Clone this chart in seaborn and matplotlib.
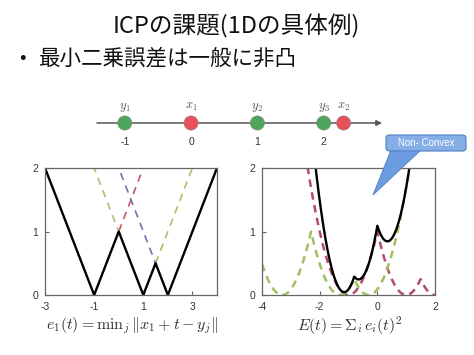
import numpy as np
import pandas as pd
import matplotlib
matplotlib.use("Agg")
import matplotlib.pyplot as plt
from matplotlib.patches import FancyBboxPatch, Polygon
import seaborn as sns

# points on the 1D line
y_pts = [-1, 1, 2]
y_names = ["$y_1$", "$y_2$", "$y_3$"]
x_pts = [0, 2.3]
x_names = ["$x_1$", "$x_2$"]
line_ticks = [-1, 0, 1, 2]

left_xlim = (-3, 4)
left_xticks = [-3, -1, 1, 3]
right_xlim = (-4, 2)
right_xticks = [-4, -2, 0, 2]
y_ticks = [0, 1, 2]

title_text = "ICPの課題(1Dの具体例)"
bullet_text = "最小二乗誤差は一般に非凸"
callout_text = "Non- Convex"

# colours
pt_green = "#4ea65c"
pt_red = "#e8505a"
left_dash_cols = ["#c65468", "#a8c16c", "#7570b3"]   # for y1, y2, y3
right_dash_cols = ["#b44a6c", "#a3bd62"]             # for e1^2, e2^2
frame_col = "#666666"
txt_col = "#333333"

sns.set_theme(style="ticks")
plt.rcParams["font.family"] = ["Liberation Sans", "DejaVu Sans"]
plt.rcParams["mathtext.fontset"] = "cm"
plt.rcParams["axes.unicode_minus"] = False
cjk = ["Noto Sans CJK JP", "DejaVu Sans"]

W, H = 474, 355
fig = plt.figure(figsize=(W / 100, H / 100), dpi=100)


def fx(px):
    return px / W


def fy(py):
    return 1 - py / H


def err(xi, t):
    # |x_i + t - y_j| for every y_j
    d = np.abs(xi + t[None, :] - np.array(y_pts, dtype=float)[:, None])
    return d


def runs(mask):
    seg = np.cumsum(np.r_[True, mask[1:] != mask[:-1]])
    return seg


def style_axes(ax, xlim, xticks):
    ax.set_xlim(*xlim)
    ax.set_ylim(0, 2)
    ax.set_xticks(xticks)
    ax.set_yticks(y_ticks)
    ax.set_xlabel("")
    ax.set_ylabel("")
    for s in ax.spines.values():
        s.set_visible(True)
        s.set_color(frame_col)
        s.set_linewidth(0.9)
    ax.tick_params(direction="in", length=3, width=0.8, color=frame_col,
                   labelsize=7.5, labelcolor=txt_col, pad=5)


# ---- number line ----
axn = fig.add_axes([fx(85), fy(148), fx(305), 50 / H])
axn.set_xlim(-1.6, 3.0)
axn.set_ylim(-1, 1)
axn.axis("off")
axn.annotate("", xy=(2.88, 0), xytext=(-1.42, 0),
             arrowprops=dict(arrowstyle="-|>", color="#555555", lw=1.1,
                             mutation_scale=8, shrinkA=0, shrinkB=0))
pts = pd.DataFrame({
    "pos": y_pts + x_pts,
    "name": y_names + x_names,
    "kind": ["y"] * len(y_pts) + ["x"] * len(x_pts),
})
pts["h"] = 0.0
sns.scatterplot(data=pts, x="pos", y="h", hue="kind", ax=axn, s=105,
                palette={"y": pt_green, "x": pt_red}, edgecolor="#8a8a8a",
                linewidth=0.4, legend=False, zorder=3)
for p, n in zip(pts["pos"], pts["name"]):
    axn.text(p, 0.64, n, ha="center", va="center", fontsize=9, color="#555555")
for v in line_ticks:
    axn.text(v, -0.76, str(v), ha="center", va="center", fontsize=7.5, color=txt_col)

# ---- left: e1(t) ----
axl = fig.add_axes([fx(45), fy(295), fx(172), 127 / H])
t1 = np.linspace(left_xlim[0], left_xlim[1], 3501)
d1 = err(x_pts[0], t1)
e1 = d1.min(axis=0)
for j in range(len(y_pts)):
    mask = d1[j] > e1 + 1e-9
    df = pd.DataFrame({"t": t1, "v": d1[j], "seg": runs(mask)})[mask]
    sns.lineplot(data=df, x="t", y="v", units="seg", estimator=None, ax=axl,
                 color=left_dash_cols[j], lw=1.2)
for ln in axl.lines:
    ln.set_dashes((4.5, 3.5))
sns.lineplot(x=t1, y=e1, ax=axl, color="black", lw=1.7, estimator=None)
style_axes(axl, left_xlim, left_xticks)

# ---- right: E(t) ----
axr = fig.add_axes([fx(262), fy(295), fx(173), 127 / H])
t2 = np.linspace(right_xlim[0], right_xlim[1], 3001)
e_sq = [err(xi, t2).min(axis=0) ** 2 for xi in x_pts]
E = np.sum(e_sq, axis=0)
for k, es in enumerate(e_sq):
    sns.lineplot(x=t2, y=es, ax=axr, color=right_dash_cols[k], lw=1.8,
                 estimator=None)
for ln in axr.lines:
    ln.set_dashes((3, 2.2))
sns.lineplot(x=t2, y=E, ax=axr, color="black", lw=1.7, estimator=None)
style_axes(axr, right_xlim, right_xticks)

# ---- texts ----
fig.text(0.499, fy(26), title_text, ha="center", va="center",
         fontsize=17, color="#111111", family=cjk)
fig.text(fx(19), fy(58), "•", ha="left", va="center", fontsize=14,
         color="#111111", family=cjk)
fig.text(fx(39), fy(58), bullet_text, ha="left", va="center", fontsize=15.5,
         color="#111111", family=cjk)
fig.text(fx(132), fy(326), r"$e_1(t) = {\min}_j\, \|x_1 + t - y_j\|$",
         ha="center", va="center", fontsize=11.5, color=txt_col)
fig.text(fx(350), fy(326), r"$E(t) = \Sigma_i\, e_i(t)^2$",
         ha="center", va="center", fontsize=11.5, color=txt_col)

# ---- callout ----
tail = Polygon([(fx(391), fy(150)), (fx(421), fy(150)), (fx(373), fy(195))],
               closed=True, transform=fig.transFigure, facecolor="#6b9be0",
               edgecolor="#4f81bd", lw=0.6, zorder=10)
fig.add_artist(tail)
box = FancyBboxPatch((fx(386), fy(151)), fx(80), 16 / H,
                     boxstyle="round,pad=0,rounding_size=0.008",
                     transform=fig.transFigure, facecolor="#86aee6",
                     edgecolor="#4f81bd", lw=0.8, zorder=11)
fig.add_artist(box)
fig.text(fx(426), fy(143), callout_text, ha="center", va="center",
         fontsize=7, color="white", zorder=12)

fig.savefig("out.png", dpi=100)
